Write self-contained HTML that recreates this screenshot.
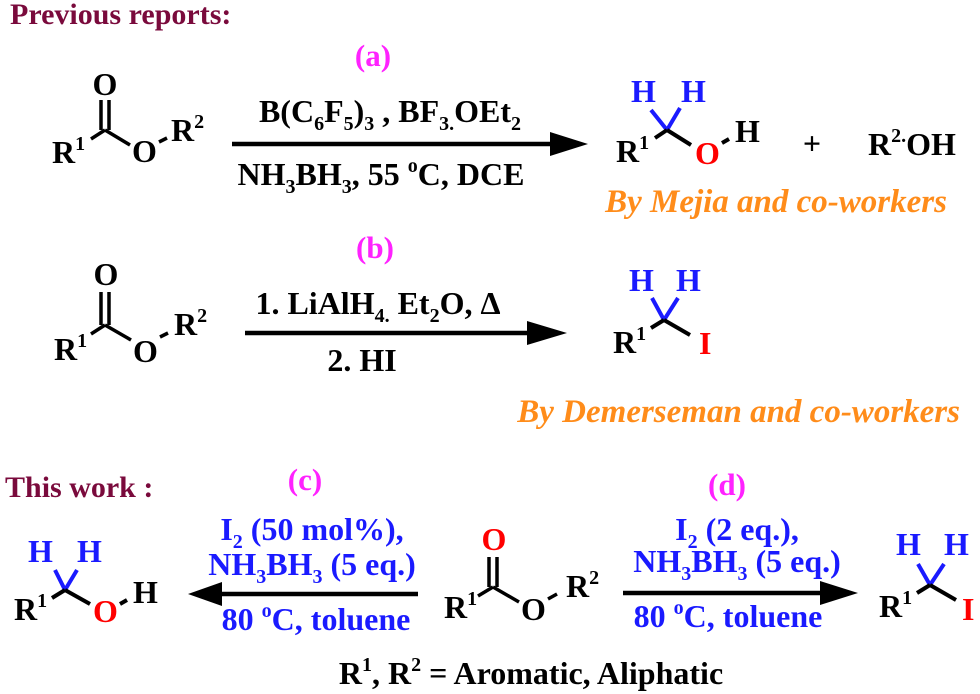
<!DOCTYPE html>
<html><head><meta charset="utf-8"><style>
html,body{margin:0;padding:0;background:#fff;}
svg{display:block;}
text{font-family:"Liberation Serif",serif;font-weight:bold;}
.k{fill:#000;font-size:32px;}
.b{fill:#1a1aff;font-size:32px;}
.r{fill:#ff0000;font-size:32px;}
.m{fill:#ff22ff;font-size:31px;}
.o{fill:#ff8c1a;font-size:33px;font-style:italic;}
.t{fill:#7a0a3c;font-size:30px;}
.s{font-size:20px;}
</style></head><body>
<svg width="980" height="694" viewBox="0 0 980 694" xmlns="http://www.w3.org/2000/svg">
<text x="10" y="24" class="t">Previous reports:</text>

<!-- (a) -->
<text x="373" y="66" class="m" text-anchor="middle">(a)</text>
<g stroke="#000" stroke-width="3.5" fill="none">
<line x1="101" y1="100" x2="101" y2="130"/><line x1="109" y1="100" x2="109" y2="130"/>
<line x1="105" y1="130" x2="91" y2="139"/><line x1="105" y1="130" x2="130" y2="145"/>
<line x1="159" y1="142" x2="167" y2="138"/>
</g>
<text x="105" y="95" class="k" text-anchor="middle">O</text>
<text x="52" y="163" class="k">R<tspan class="s" dy="-13">1</tspan></text>
<text x="132" y="162" class="k">O</text>
<text x="171" y="141" class="k">R<tspan class="s" dy="-13">2</tspan></text>
<line x1="232" y1="144" x2="560" y2="144" stroke="#000" stroke-width="4.5"/>
<path d="M550,132 L588,144 L550,156 z" fill="#000"/>
<text x="390" y="122" class="k" text-anchor="middle">B(C<tspan class="s" dy="8">6</tspan><tspan dy="-8">F</tspan><tspan class="s" dy="8">5</tspan><tspan dy="-8">)</tspan><tspan class="s" dy="8">3</tspan><tspan dy="-8"> , BF</tspan><tspan class="s" dy="8">3.</tspan><tspan dy="-8">OEt</tspan><tspan class="s" dy="8">2</tspan></text>
<text x="381" y="185" class="k" text-anchor="middle">NH<tspan class="s" dy="8">3</tspan><tspan dy="-8">BH</tspan><tspan class="s" dy="8">3</tspan><tspan dy="-8">, 55 </tspan><tspan class="s" dy="-13">o</tspan><tspan dy="13">C, DCE</tspan></text>
<g stroke-width="4" fill="none">
<line x1="651" y1="110" x2="667" y2="130" stroke="#1a1aff"/><line x1="680" y1="108" x2="667" y2="130" stroke="#1a1aff"/>
<line x1="667" y1="130" x2="655" y2="138" stroke="#000"/><line x1="667" y1="130" x2="691" y2="145" stroke="#000"/>
<line x1="722" y1="143" x2="729" y2="139" stroke="#000"/>
</g>
<text x="631" y="102" class="b">H</text><text x="681" y="102" class="b">H</text>
<text x="616" y="162" class="k">R<tspan class="s" dy="-13">1</tspan></text>
<text x="695" y="164" class="r">O</text>
<text x="735" y="142" class="k">H</text>
<text x="812" y="154" class="k" text-anchor="middle">+</text>
<text x="868" y="155" class="k">R<tspan class="s" dy="-13">2.</tspan><tspan dy="13">OH</tspan></text>
<text x="947" y="212" class="o" text-anchor="end">By Mejia and co-workers</text>

<!-- (b) -->
<text x="375" y="258" class="m" text-anchor="middle">(b)</text>
<g stroke="#000" stroke-width="3.5" fill="none">
<line x1="101" y1="292" x2="101" y2="325"/><line x1="109" y1="292" x2="109" y2="325"/>
<line x1="105" y1="325" x2="91" y2="334"/><line x1="105" y1="325" x2="131" y2="340"/>
<line x1="160" y1="337" x2="168" y2="333"/>
</g>
<text x="106" y="285" class="k" text-anchor="middle">O</text>
<text x="54" y="360" class="k">R<tspan class="s" dy="-13">1</tspan></text>
<text x="133" y="362" class="k">O</text>
<text x="174" y="335" class="k">R<tspan class="s" dy="-13">2</tspan></text>
<line x1="245" y1="333" x2="535" y2="333" stroke="#000" stroke-width="4.5"/>
<path d="M527,321 L567,333 L527,345 z" fill="#000"/>
<text x="378" y="314" class="k" text-anchor="middle">1. LiAlH<tspan class="s" dy="8">4.</tspan><tspan dy="-8"> Et</tspan><tspan class="s" dy="8">2</tspan><tspan dy="-8">O, Δ</tspan></text>
<text x="362" y="371" class="k" text-anchor="middle">2. HI</text>
<g stroke-width="4" fill="none">
<line x1="652" y1="298" x2="664" y2="320" stroke="#1a1aff"/><line x1="678" y1="298" x2="664" y2="320" stroke="#1a1aff"/>
<line x1="664" y1="320" x2="651" y2="328" stroke="#000"/><line x1="664" y1="320" x2="690" y2="335" stroke="#000"/>
</g>
<text x="629" y="291" class="b">H</text><text x="676" y="291" class="b">H</text>
<text x="613" y="353" class="k">R<tspan class="s" dy="-13">1</tspan></text>
<text x="699" y="354" class="r">I</text>
<text x="960" y="422" class="o" text-anchor="end">By Demerseman and co-workers</text>

<!-- This work -->
<text x="5" y="497" class="t">This work :</text>
<text x="305" y="490" class="m" text-anchor="middle">(c)</text>
<text x="727" y="495" class="m" text-anchor="middle">(d)</text>

<g stroke-width="4" fill="none">
<line x1="55" y1="570" x2="65" y2="590" stroke="#1a1aff"/><line x1="77" y1="570" x2="65" y2="590" stroke="#1a1aff"/>
<line x1="65" y1="590" x2="52" y2="598" stroke="#000"/><line x1="65" y1="590" x2="90" y2="604" stroke="#000"/>
<line x1="120" y1="604" x2="127" y2="600" stroke="#000"/>
</g>
<text x="28" y="562" class="b">H</text><text x="77" y="562" class="b">H</text>
<text x="14" y="620" class="k">R<tspan class="s" dy="-13">1</tspan></text>
<text x="93" y="622" class="r">O</text>
<text x="133" y="603" class="k">H</text>
<line x1="418" y1="594" x2="215" y2="594" stroke="#000" stroke-width="4.5"/>
<path d="M222,582 L188,594 L222,606 z" fill="#000"/>
<text x="312" y="540" class="b" text-anchor="middle">I<tspan class="s" dy="8">2</tspan><tspan dy="-8"> (50 mol%),</tspan></text>
<text x="312" y="575" class="b" text-anchor="middle">NH<tspan class="s" dy="8">3</tspan><tspan dy="-8">BH</tspan><tspan class="s" dy="8">3</tspan><tspan dy="-8"> (5 eq.)</tspan></text>
<text x="316" y="630" class="b" text-anchor="middle">80 <tspan class="s" dy="-13">o</tspan><tspan dy="13">C, toluene</tspan></text>

<g stroke="#000" stroke-width="3.5" fill="none">
<line x1="489" y1="557" x2="489" y2="587"/><line x1="497" y1="557" x2="497" y2="587"/>
<line x1="493" y1="587" x2="478" y2="596"/><line x1="493" y1="587" x2="519" y2="602"/>
<line x1="548" y1="599" x2="557" y2="594"/>
</g>
<text x="494" y="550" class="r" text-anchor="middle">O</text>
<text x="444" y="618" class="k">R<tspan class="s" dy="-13">1</tspan></text>
<text x="521" y="620" class="k">O</text>
<text x="566" y="597" class="k">R<tspan class="s" dy="-13">2</tspan></text>
<line x1="623" y1="593" x2="825" y2="593" stroke="#000" stroke-width="4.5"/>
<path d="M820,581 L858,593 L820,605 z" fill="#000"/>
<text x="737" y="540" class="b" text-anchor="middle">I<tspan class="s" dy="8">2</tspan><tspan dy="-8"> (2 eq.),</tspan></text>
<text x="737" y="572" class="b" text-anchor="middle">NH<tspan class="s" dy="8">3</tspan><tspan dy="-8">BH</tspan><tspan class="s" dy="8">3</tspan><tspan dy="-8"> (5 eq.)</tspan></text>
<text x="728" y="627" class="b" text-anchor="middle">80 <tspan class="s" dy="-13">o</tspan><tspan dy="13">C, toluene</tspan></text>

<g stroke-width="4" fill="none">
<line x1="918" y1="564" x2="930" y2="585" stroke="#1a1aff"/><line x1="944" y1="564" x2="930" y2="585" stroke="#1a1aff"/>
<line x1="930" y1="585" x2="917" y2="593" stroke="#000"/><line x1="930" y1="585" x2="956" y2="600" stroke="#000"/>
</g>
<text x="896" y="555" class="b">H</text><text x="944" y="555" class="b">H</text>
<text x="879" y="617" class="k">R<tspan class="s" dy="-13">1</tspan></text>
<text x="962" y="620" class="r">I</text>

<text x="531" y="684" class="k" text-anchor="middle">R<tspan class="s" dy="-13">1</tspan><tspan dy="13">, R</tspan><tspan class="s" dy="-13">2</tspan><tspan dy="13"> = Aromatic, Aliphatic</tspan></text>
</svg>
</body></html>
